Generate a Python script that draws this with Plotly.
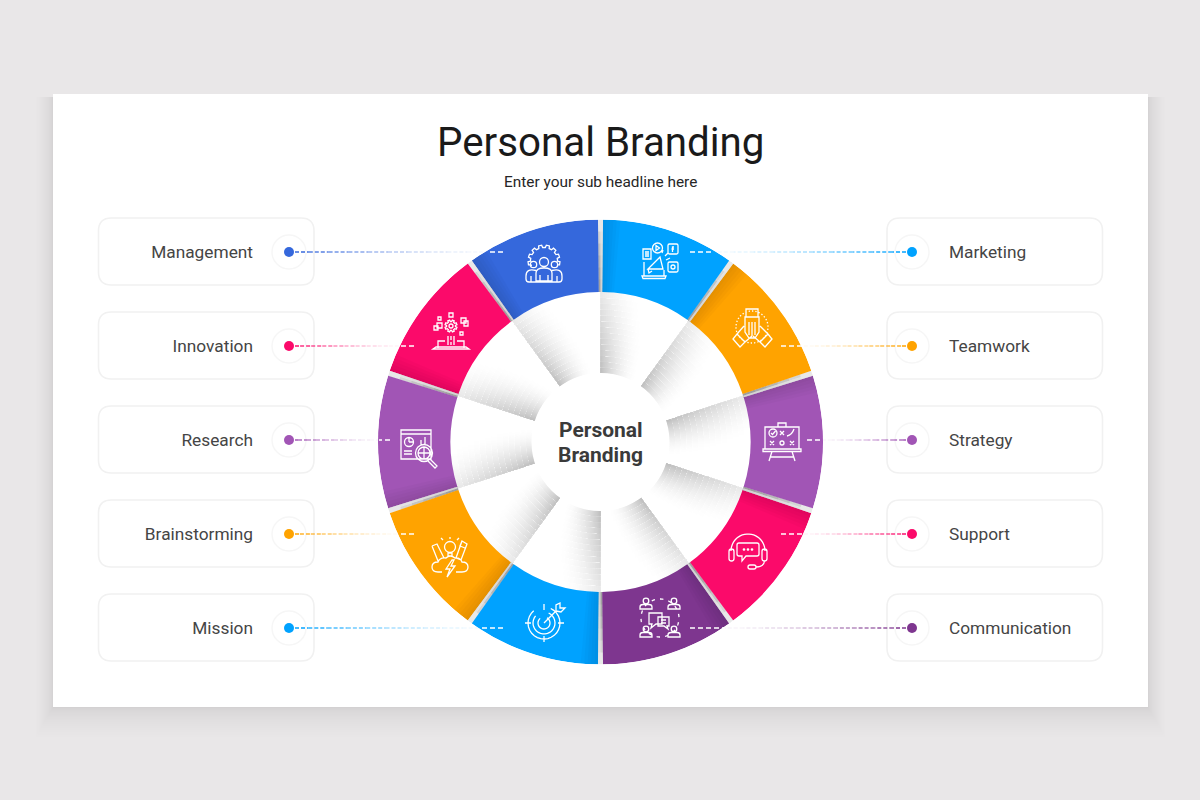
"""
plot.py

Personal Branding wheel: ten equal segments with labelled cards left and right.
"""
import re

import numpy as np
import plotly.graph_objects as go

# Data, clockwise from the top
segments = ["Marketing", "Teamwork", "Strategy", "Support", "Communication",
            "Mission", "Brainstorming", "Research", "Innovation", "Management"]
segment_values = [36, 36, 36, 36, 36, 36, 36, 36, 36, 36]
segment_colors = ["#00A2FF", "#FFA300", "#A155B5", "#FB0A6A", "#7E368F",
                  "#00A2FF", "#FFA300", "#A155B5", "#FB0A6A", "#3568DC"]
row_y = [252, 346, 440, 534, 628, 628, 534, 440, 346, 252]
# x range of the white dashes that sit on each segment
white_from = [690, 781, 807, 781, 690, 503, 414, 390, 414, 503]
white_to = [714, 803, 823, 803, 725, 482, 398, 379, 400, 487]
icon_x = [661, 752, 782, 748, 660, 545, 450, 419, 451, 544]
icon_y = [263, 327, 441, 552, 618, 620, 557, 448, 332, 263]

title = "Personal Branding"
subtitle = "Enter your sub headline here"
center_lines = ["Personal", "Branding"]

# Layout constants, page pixels
CX, CY = 600.5, 442
R_OUTER, R_INNER, R_CENTER = 222.5, 150, 69
GAP_DEG = 1.3
CARD = dict(x0=53, y0=94, x1=1148, y1=707)
LEFT_CARD = (98.5, 314)
RIGHT_CARD = (887, 1102.5)
DOT_LEFT, DOT_RIGHT = 289, 912

edges = np.cumsum([0] + segment_values[:-1])
centers = edges + np.array(segment_values) / 2
theta_kw = dict(hoverinfo="skip", showlegend=False, subplot="polar")


def circ(cx, cy, r):
    k = r * 0.5523
    return (f"M{cx - r},{cy} C{cx - r},{cy - k} {cx - k},{cy - r} {cx},{cy - r} "
            f"C{cx + k},{cy - r} {cx + r},{cy - k} {cx + r},{cy} "
            f"C{cx + r},{cy + k} {cx + k},{cy + r} {cx},{cy + r} "
            f"C{cx - k},{cy + r} {cx - r},{cy + k} {cx - r},{cy} Z ")


def rect(x, y, w, h):
    return f"M{x},{y} L{x + w},{y} L{x + w},{y + h} L{x},{y + h} Z "


def round_rect(x, y, w, h, r):
    return (f"M{x + r},{y} L{x + w - r},{y} Q{x + w},{y} {x + w},{y + r} "
            f"L{x + w},{y + h - r} Q{x + w},{y + h} {x + w - r},{y + h} "
            f"L{x + r},{y + h} Q{x},{y + h} {x},{y + h - r} "
            f"L{x},{y + r} Q{x},{y} {x + r},{y} Z ")


def arc(cx, cy, r, a0, a1, n=24):
    a = np.radians(np.linspace(a0, a1, n))
    pts = [f"{cx + r * np.sin(t):.2f},{cy - r * np.cos(t):.2f}" for t in a]
    return "M" + " L".join(pts) + " "


def gear(cx, cy, r, teeth, a0=0, a1=360, h=2.2):
    pts = []
    step = (a1 - a0) / teeth
    for i in range(teeth):
        start = a0 + i * step
        for frac, rr in ((0.0, r), (0.2, r), (0.3, r + h), (0.7, r + h), (0.8, r)):
            t = np.radians(start + frac * step)
            pts.append(f"{cx + rr * np.sin(t):.2f},{cy - rr * np.cos(t):.2f}")
    path = "M" + " L".join(pts)
    return path + (" Z " if a1 - a0 == 360 else " ")


def dashed_ring(cx, cy, r, n, fill=0.55):
    out = ""
    for i in range(n):
        out += arc(cx, cy, r, i * 360 / n, (i + fill) * 360 / n, 5)
    return out


def person(cx, cy):
    return circ(cx, cy - 3, 2.8) + (f"M{cx - 6},{cy + 5} L{cx - 6},{cy + 3} Q{cx - 6},{cy + 0.5} {cx - 3},{cy + 0.5} "
                                    f"L{cx + 3},{cy + 0.5} Q{cx + 6},{cy + 0.5} {cx + 6},{cy + 3} L{cx + 6},{cy + 5} Z ")


icons = {
    "Marketing": (
        rect(-18, -14, 8, 10) + "M-16,-11 L-12,-11 M-16,-9 L-12,-9 M-16,-7 L-12,-7 "
        + circ(-3.5, -15, 5) + "M-5,-17.5 L-1.5,-15 L-5,-12.5 Z "
        + round_rect(7, -19, 10, 10, 1.5) + "M13,-16 L11.5,-16 L11.5,-11 M10.5,-14 L13,-14 "
        + round_rect(7, -1, 10, 10, 1.5) + circ(12, 4, 2)
        + "M-17,-1 L-17,13 L3,13 L3,7 M-19,13 L5,13 L4,15.5 L-18,15.5 Z "
        + "M-13,6 L-1,-6 L2,6 Z M-13,6 L-12,10 L-9,8 M4,-7 L7,-10 M5,-3 L9,-5 M1,-10 L2,-13"
    ),
    "Teamwork": (
        dashed_ring(0, 0, 16, 30, 0.4)
        + rect(-6, -18, 12, 8) + "M-7,-10 L-7,5 L-3,11 L3,11 L7,5 L7,-10 Z "
        + "M-3,-5 L-3,8 M0,-5 L0,9 M3,-5 L3,8 "
        + "M-19,12 L-12,20 L-7,15 L-15,7 Z M-15,7 L-8,-1 M-7,15 L0,9 "
        + "M20,12 L13,20 L8,15 L16,7 Z M16,7 L8,-1 M8,15 L1,9 "
    ),
    "Strategy": (
        rect(-17, -14, 34, 22) + rect(-4, -18, 8, 4) + "M-19,8 L19,8 L19,10.5 L-19,10.5 Z "
        + "M-10,10.5 L-13,20 M10,10.5 L13,20 M-12,16 L12,16 "
        + circ(-9, -8, 4) + "M-11,-8 L-9.5,-6.5 L-6.5,-10 "
        + "M-2,-10 L2,-6 M2,-10 L-2,-6 M5,-5 Q10,-6 12,-12 "
        + "M-12,0 L-8,4 M-8,0 L-12,4 " + circ(0, 2, 2) + "M8,0 L12,4 M12,0 L8,4 "
    ),
    "Support": (
        arc(0, -1, 17, -90, 90) + round_rect(-19, -3, 5, 12, 2.5) + round_rect(14, -3, 5, 12, 2.5)
        + "M-9,-9 L9,-9 Q11,-9 11,-7 L11,2 Q11,4 9,4 L-2,4 L-6,9 L-6,4 L-9,4 Q-11,4 -11,2 L-11,-7 Q-11,-9 -9,-9 Z "
        + circ(-4, -2.5, 0.7) + circ(0, -2.5, 0.7) + circ(4, -2.5, 0.7)
        + "M16.5,9 Q16,15 8,15 " + round_rect(0, 13, 8, 4, 2)
    ),
    "Communication": (
        dashed_ring(0, 0, 19, 14, 0.4)
        + person(-14, -14) + person(14, -14) + person(-14, 14) + person(14, 14)
        + "M-11,-5 L2,-5 L2,6 L-4,6 L-9,10 L-8,6 L-11,6 Z "
        + "M-2,-1 L9,-1 L9,8 L7,8 L8,11 L4,8 L-2,8 Z M1,2 L6,2 M1,5 L6,5 "
    ),
    "Mission": (
        arc(-1, 3, 16, 25, 320) + arc(-1, 3, 11, 25, 310) + arc(-1, 3, 6, 30, 320)
        + "M-1,3 L11,-9 M11,-9 L11,-15 L15,-17 L15,-12 L20,-12 L16,-8 L11,-9 "
        + "M-1,-16 L-1,-10 M-1,16 L-1,22 M-20,3 L-14,3 M13,3 L19,3 "
    ),
    "Brainstorming": (
        circ(0, -10, 5.5) + "M-2,-4 L2,-4 L2,-1 L-2,-1 Z M-7,-17 L-9,-19 M7,-17 L9,-19 M0,-18 L0,-20 "
        + "M-18,-11 L-13,-13 L-6,1 M-18,-11 L-12,4 "
        + "M12,-16 L17,-13 L11,3 L6,1 Z M12,-16 L10,-11 L15,-9 "
        + "M-8,15 L-12,15 Q-18,15 -18,10 Q-18,5 -12,5 Q-10,0 -4,1 Q0,-3 5,1 Q10,0 12,5 Q18,5 18,10 Q18,15 12,15 L6,15 "
        + "M2,3 L-4,12 L0,12 L-3,20 L5,9 L1,9 L4,3 Z "
    ),
    "Research": (
        rect(-18, -18, 30, 29) + "M-18,-14 L12,-14 "
        + circ(-10, -6, 4.5) + "M-10,-6 L-10,-10.5 M-10,-6 L-5.5,-6 "
        + "M2,-3 L2,-8 M6,-4 L6,-11 M-15,3 L-7,3 M-15,6 L-7,6 "
        + circ(5, 5, 8.5) + circ(5, 5, 6) + "M-1,5 L11,5 M5,-1 L5,11 "
        + "M11,11 L18,18 L16,20 L9,13 "
    ),
    "Innovation": (
        gear(0, -6, 4.5, 8, h=1.6) + circ(0, -6, 2)
        + rect(-2, -19, 4, 4) + rect(-13, -15, 3, 3) + rect(-14, -9, 5, 5) + rect(-17, -6, 4, 4)
        + rect(10, -14, 5, 5) + rect(13, -11, 4, 5) + rect(9, 0, 3, 3)
        + "M-13,16 L-13,9 L-6,9 M13,16 L13,9 L6,9 M-18,17 L18,17 L15,15 L-15,15 Z "
        + "M-3,4 L-3,13 M3,4 L3,13 M0,4 L0,8 M0,10 L0,13 "
    ),
    "Management": (
        gear(0, -2, 13.5, 8, -112.5, 112.5, h=2.5)
        + circ(0, -1, 4.5) + circ(-10.5, 1.5, 3.2) + circ(10.5, 1.5, 3.2)
        + "M-8,18 L-8,10 Q-8,5 0,5 Q8,5 8,10 L8,18 Z "
        + "M-8,7.5 Q-18,5 -18,13 L-18,16 Q-18,19 -15,19 L15,19 Q18,19 18,16 L18,13 Q18,5 8,7.5 "
        + "M-4,12 L-4,19 M4,12 L4,19 M-13,13 L-13,19 M13,13 L13,19 "
    ),
}


def place(path, dx, dy):
    def shift(m):
        return f"{float(m.group(1)) + dx:.2f},{float(m.group(2)) + dy:.2f}"
    return re.sub(r"(-?\d+\.?\d*),(-?\d+\.?\d*)", shift, path)


def rgba(hex_color, alpha):
    r, g, b = (int(hex_color[i:i + 2], 16) for i in (1, 3, 5))
    return f"rgba({r},{g},{b},{alpha:.3f})"


fig = go.Figure()

# Leader lines, fading from the dot to the wheel
FADE_STEPS = 10
for name, color, y, end in zip(segments, segment_colors, row_y, white_to):
    dot_x = DOT_RIGHT if end > CX else DOT_LEFT
    stops = np.linspace(dot_x, end, FADE_STEPS + 1)
    for i in range(FADE_STEPS):
        alpha = 0.95 * (1 - i / FADE_STEPS) ** 1.6 + 0.03
        fig.add_trace(go.Scatter(x=[stops[i], stops[i + 1]], y=[y, y], mode="lines",
                                 line=dict(color=rgba(color, alpha), width=1.4, dash="4px,2px"),
                                 hoverinfo="skip", showlegend=False))

dots_x = [DOT_RIGHT if w > CX else DOT_LEFT for w in white_to]
fig.add_trace(go.Scatter(x=dots_x, y=row_y, mode="markers",
                         marker=dict(size=10, color=segment_colors),
                         hoverinfo="skip", showlegend=False))

# Labels
for side, pos, lab_x in (("r", "middle right", 949), ("l", "middle left", 253)):
    idx = [i for i, w in enumerate(white_to) if (w > CX) == (side == "r")]
    fig.add_trace(go.Scatter(x=[lab_x] * len(idx), y=[row_y[i] + 2 for i in idx],
                             text=[segments[i] for i in idx], mode="text", textposition=pos,
                             textfont=dict(family="Roboto", size=17.3, color="#454545"),
                             hoverinfo="skip", showlegend=False))

# Folded shading of the inner white ring. Fixed angular steps in every radial
# band, opaque, and each band runs out to the ring edge so no seams show.
ANGLE_STEPS = 36
RADIUS_STEPS = 14
SHADE_DEG = 30
shade_theta, shade_base, shade_r, shade_width, shade_color = [], [], [], [], []
for edge in edges:
    for j in range(RADIUS_STEPS):
        r0 = R_CENTER + (R_INNER - R_CENTER) * j / RADIUS_STEPS
        r_mid = r0 + (R_INNER - R_CENTER) / RADIUS_STEPS / 2
        closeness = (R_INNER - r_mid) / (R_INNER - R_CENTER)
        spread = 15 + 15 * closeness
        strength = 22 + 44 * closeness
        for i in range(ANGLE_STEPS - 1, -1, -1):
            # widest first, each narrower cell paints over the one before it
            width = SHADE_DEG * (i + 1) / ANGLE_STEPS
            depth = max(0, 1 - (width - SHADE_DEG / ANGLE_STEPS / 2) / spread) ** 1.8
            level = int(round(255 - strength * depth))
            shade_theta.append(edge + width / 2)
            shade_base.append(r0)
            shade_r.append(R_INNER - r0)
            shade_width.append(width)
            shade_color.append(f"rgb({level},{level},{level})")
fig.add_trace(go.Barpolar(theta=shade_theta, r=shade_r, base=shade_base, width=shade_width,
                          marker=dict(color=shade_color, line_width=0), **theta_kw))

# Grey shadow in the gaps between segments
for i in range(6):
    fig.add_trace(go.Barpolar(theta=edges, r=[R_OUTER - R_INNER - 12 * i] * 10, base=R_INNER,
                              width=GAP_DEG + 0.2, marker=dict(color="rgba(110,110,110,0.16)", line_width=0),
                              **theta_kw))

# Coloured segments
fig.add_trace(go.Barpolar(theta=centers, r=[R_OUTER - R_INNER] * 10, base=R_INNER,
                          width=[v - GAP_DEG for v in segment_values],
                          marker=dict(color=segment_colors, line_width=0), **theta_kw))

# Darker start of each segment
for i in range(5):
    width = GAP_DEG / 2 + (i + 1) * 0.9
    fig.add_trace(go.Barpolar(theta=edges + width / 2, r=[R_OUTER - R_INNER] * 10, base=R_INNER,
                              width=width, marker=dict(color="rgba(0,0,0,0.018)", line_width=0),
                              **theta_kw))
    fig.add_trace(go.Barpolar(theta=edges + GAP_DEG / 4, r=[R_OUTER - R_INNER] * 10, base=R_INNER,
                              width=GAP_DEG / 2, marker=dict(color="rgba(255,255,255,0.2)", line_width=0),
                              **theta_kw))

# Centre disc
fig.add_trace(go.Barpolar(theta=[180], r=[R_CENTER], base=0, width=360,
                          marker=dict(color="#FFFFFF", line_width=0), **theta_kw))

shapes = [dict(type="rect", layer="below", xref="paper", yref="paper", x0=0, y0=0, x1=1, y1=1,
               line_width=0, fillcolor="#E9E7E8")]

# Shadow and white slide, layers bunched close to the slide
SHADOW_LAYERS = 24
for k in range(SHADOW_LAYERS, 0, -1):
    reach = (k / SHADOW_LAYERS) ** 2
    shapes.append(dict(type="rect", layer="below", x0=CARD["x0"] - reach * 17, x1=CARD["x1"] + reach * 17,
                       y0=CARD["y0"] + 3, y1=CARD["y1"] + reach * 30, line_width=0,
                       fillcolor="rgba(70,70,70,0.006)"))
shapes.append(dict(type="rect", layer="below", line_width=0, fillcolor="#FFFFFF", **CARD))

# Cards and rings around the dots
for y, w in zip(row_y, white_to):
    x0, x1 = RIGHT_CARD if w > CX else LEFT_CARD
    dot_x = DOT_RIGHT if w > CX else DOT_LEFT
    shapes.append(dict(type="path", layer="below", path=round_rect(x0, y - 34, x1 - x0, 67, 13),
                       line=dict(color="#F1F1F1", width=1.6), fillcolor="#FFFFFF"))
    shapes.append(dict(type="circle", layer="below", x0=dot_x - 17, x1=dot_x + 17, y0=y - 17, y1=y + 17,
                       line=dict(color="#F6F6F6", width=1.4), fillcolor="#FFFFFF"))

# White dashes over the segments
for y, a, b in zip(row_y, white_from, white_to):
    shapes.append(dict(type="line", x0=a, x1=b, y0=y, y1=y,
                       line=dict(color="#FFFFFF", width=1.4, dash="5px,3px")))

# Icons
for name, x, y in zip(segments, icon_x, icon_y):
    shapes.append(dict(type="path", path=place(icons[name], x, y),
                       line=dict(color="#FFFFFF", width=1.3)))

annotations = [
    dict(x=600.5, y=142, text=title, showarrow=False,
         font=dict(family="Roboto", size=40.3, color="#1A1A1A")),
    dict(x=600.5, y=182, text=subtitle, showarrow=False,
         font=dict(family="Roboto", size=15.4, color="#262626")),
]
for line, y in zip(center_lines, [430, 455]):
    annotations.append(dict(x=600.5, y=y, text=line, showarrow=False,
                            font=dict(family="Roboto", size=21, color="#3A3A3A", weight=700)))

fig.update_layout(
    width=1200, height=800, margin=dict(l=0, r=0, t=0, b=0, pad=0),
    paper_bgcolor="#E9E7E8", plot_bgcolor="rgba(0,0,0,0)", showlegend=False,
    xaxis=dict(range=[0, 1200], visible=False, fixedrange=True),
    yaxis=dict(range=[800, 0], visible=False, fixedrange=True),
    polar=dict(
        domain=dict(x=[(CX - R_OUTER) / 1200, (CX + R_OUTER) / 1200],
                    y=[1 - (CY + R_OUTER) / 800, 1 - (CY - R_OUTER) / 800]),
        bgcolor="rgba(0,0,0,0)", barmode="overlay",
        radialaxis=dict(range=[0, R_OUTER], visible=False),
        angularaxis=dict(direction="clockwise", rotation=90, visible=False),
    ),
    shapes=shapes, annotations=annotations,
)

# body margin off, and smooth edges on the polar bars
page_js = ("document.body.style.margin='0';document.body.style.overflow='hidden';"
           "var s=document.createElement('style');"
           "s.textContent='.polarlayer path{shape-rendering:geometricPrecision !important}';"
           "document.head.appendChild(s);")
fig.write_html("out.html", config=dict(displayModeBar=False), post_script=page_js)
